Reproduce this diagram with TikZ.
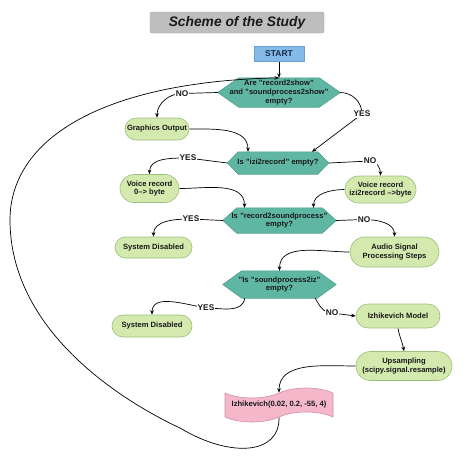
\documentclass[tikz,border=0pt]{standalone}
\usepackage{fontspec}
\setmainfont{Liberation Sans}
\usetikzlibrary{arrows.meta,shapes.misc,shapes.symbols,calc,backgrounds}
\definecolor{tealf}{HTML}{5FB7A3}
\definecolor{teald}{HTML}{4E9E8C}
\definecolor{greenf}{HTML}{D3E9AE}
\definecolor{greend}{HTML}{9CBF7B}
\definecolor{bluef}{HTML}{84BAE8}
\definecolor{blued}{HTML}{6A9FD0}
\definecolor{pinkf}{HTML}{F4B8CA}
\definecolor{pinkd}{HTML}{D48FA6}
\definecolor{grayf}{HTML}{BEBEBE}
\definecolor{grayd}{HTML}{A8A8A8}
\definecolor{navy}{HTML}{1B2B48}
\begin{document}
\begin{tikzpicture}[x=1pt,y=1pt,
  every node/.style={font=\bfseries\fontsize{7.6}{8.7}\selectfont, align=center, inner sep=1pt, text=black!90},
  proc/.style={rounded rectangle, draw=greend, fill=greenf, line width=0.6pt},
  dec/.style={rectangle, draw=none},
  hexf/.style={fill=tealf, draw=teald, line width=0.6pt},
  lab/.style={fill=white, inner sep=0.6pt, font=\bfseries\fontsize{8.3}{9}\selectfont},
  conn/.style={line width=0.7pt, -{Stealth[length=4.5pt,width=3.6pt]}}
]
\useasboundingbox (0,0) rectangle (474,-471);

\node[rounded corners=2pt, draw=grayd, fill=grayf, minimum width=174pt, minimum height=21pt,
      font=\bfseries\itshape\fontsize{13.8}{16}\selectfont] (title) at (237,-22.5) {Scheme of the Study};
\node[draw=blued, fill=bluef, minimum width=50pt, minimum height=15pt,
      font=\bfseries\fontsize{8.5}{10}\selectfont, text=navy] (start) at (279,-53.5) {START};

\node[dec, minimum width=122pt, minimum height=29pt] (d1) at (279,-92.5) {Are "record2show"\\and "soundprocess2show"\\empty?};
\node[dec, minimum width=101pt, minimum height=22pt] (d2) at (278,-163) {Is "izi2record" empty?};
\node[dec, minimum width=113pt, minimum height=25pt] (d3) at (279.5,-220.5) {Is "record2soundprocess"\\empty?};
\node[dec, minimum width=113pt, minimum height=27pt] (d4) at (279.5,-284.5) {"Is "soundprocess2iz"\\empty?};

\node[proc, minimum width=66pt, minimum height=22pt] (go) at (157,-129) {Graphics Output};
\node[proc, minimum width=61pt, minimum height=28pt] (vr1) at (149.5,-188.5) {Voice record\\0--> byte};
\node[proc, minimum width=73pt, minimum height=27pt] (vr2) at (380.5,-189.5) {Voice record\\izi2record -->byte};
\node[proc, minimum width=79pt, minimum height=21pt] (sd1) at (153.5,-247.5) {System Disabled};
\node[proc, minimum width=91pt, minimum height=30pt] (audio) at (394.5,-252) {Audio Signal\\Processing Steps};
\node[proc, minimum width=82pt, minimum height=22pt] (sd2) at (152,-326) {System Disabled};
\node[proc, minimum width=86pt, minimum height=24pt] (izh) at (398,-316) {Izhikevich Model};
\node[proc, minimum width=98pt, minimum height=29pt] (ups) at (404,-366) {Upsampling\\(scipy.signal.resample)};
\node[tape, draw=pinkd, fill=pinkf, line width=0.6pt, minimum width=108pt, minimum height=34pt,
      tape bend height=10pt] (tape) at (279,-405) {Izhikevich(0.02, 0.2, -55, 4)};

\node[lab] (no1) at (182,-93.5) {NO};
\node[lab] (yes1) at (362,-114) {YES};
\node[lab] (yes2) at (188,-158) {YES};
\node[lab] (no2) at (370,-161) {NO};
\node[lab] (yes3) at (191,-219) {YES};
\node[lab] (no3) at (364,-219.5) {NO};
\node[lab] (yes4) at (206,-308) {YES};
\node[lab] (no4) at (332,-313) {NO};

\coordinate (t1) at ($(d2.north)+(34,0)$);
\coordinate (t2) at ($(d2.north)+(-30,0)$);
\coordinate (t3) at ($(d3.north)+(-35,0)$);
\coordinate (t4) at ($(d3.north)+(34,0)$);
\coordinate (t5) at ($(d4.south west)+(22,0)$);
\coordinate (t6) at ($(d4.south east)+(-21,0)$);

\begin{scope}[on background layer]
\fill[white] (0,0) rectangle (474,-471);
\foreach \n/\t in {d1/21,d2/11,d3/14,d4/19}
  \path[hexf] (\n.west) -- ([xshift=\t pt]\n.north west) -- ([xshift=-\t pt]\n.north east) -- (\n.east)
     -- ([xshift=-\t pt]\n.south east) -- ([xshift=\t pt]\n.south west) -- cycle;
\draw[conn] (start.south) -- (d1.north);
\draw[conn] (d1.west) -- (no1.center) to[out=180,in=90] (go.north);
\draw[conn] (d1.east) to[out=0,in=90] (yes1.center) -- (t1);
\draw[conn] (go.east) to[out=0,in=90] (t2);
\draw[conn] (d2.west) -- (yes2.center) to[out=180,in=90] (vr1.north);
\draw[conn] (d2.east) -- (no2.center) to[out=0,in=90] (vr2.north);
\draw[conn] (vr1.east) to[out=0,in=90] (t3);
\draw[conn] (vr2.west) to[out=180,in=90] (t4);
\draw[conn] (d3.west) -- (yes3.center) to[out=180,in=90] (sd1.north);
\draw[conn] (d3.east) -- (no3.center) to[out=0,in=90] (audio.north);
\draw[conn] (audio.west) to[out=180,in=90] (d4.north);
\draw[conn] (t5) to[out=-100,in=0] (yes4.center) to[out=170,in=90] (sd2.north);
\draw[conn] (t6) to[out=-60,in=180] (no4.center) -- (izh.west);
\draw[conn] (izh.south) to[out=-80,in=100] (ups.north);
\draw[conn] (ups.west) to[out=180,in=90] (tape.north);
\draw[conn] (tape.south) .. controls (280,-455) and (230,-458) .. (180,-428)
   .. controls (120,-400) and (10,-330) .. (10,-220)
   .. controls (10,-140) and (100,-82) .. (d1.north);
\end{scope}
\end{tikzpicture}
\end{document}
